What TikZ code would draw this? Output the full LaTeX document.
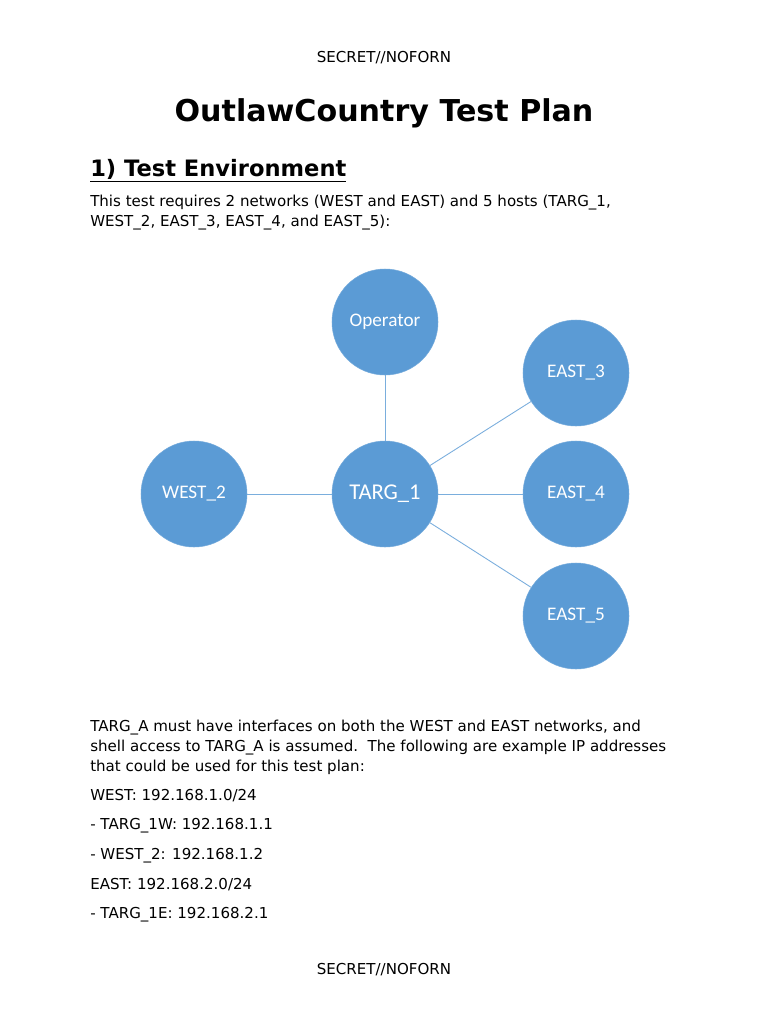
\documentclass[tikz,border=0pt]{standalone}
\usepackage{fontspec}
\setmainfont{DejaVu Sans}
\newfontfamily\calib{Carlito}
\definecolor{hostblue}{HTML}{5B9BD5}
\definecolor{linkblue}{HTML}{7AAEDD}
\tikzset{
  host/.style={circle,fill=hostblue,draw=hostblue!85!white,line width=.4pt,minimum size=84.5pt,inner sep=0pt,text=white,font=\calib\fontsize{15.3}{18}\selectfont},
  link/.style={draw=linkblue,line width=.7pt},
  body/.style={anchor=west,inner sep=0pt,font=\fontsize{12}{14}\selectfont}
}
\begin{document}
\begin{tikzpicture}[x=.797pt,y=-.797pt]
\useasboundingbox(0,0)rectangle(768,1024);
\fill[white](0,0)rectangle(768,1024);
\node[body,anchor=center](hdr)at(384,58){SECRET//NOFORN};
\node[anchor=center,font=\fontsize{24}{28}\selectfont\bfseries](title)at(384,113.5){OutlawCountry Test Plan};
\node[body,font=\fontsize{18}{21}\selectfont\bfseries](sec)at(90,170.5){\underline{1) Test Environment}};
\node[body](p1)at(90,202.5){This test requires 2 networks (WEST and EAST) and 5 hosts (TARG\_1,};
\node[body](p2)at(90,222.5){WEST\_2, EAST\_3, EAST\_4, and EAST\_5):};
% hosts
\node[host](oper)at(385,322){\raisebox{-1.5pt}{Operator}};
\node[host,font=\calib\fontsize{18}{21}\selectfont](targ)at(385,494){TARG\_1};
\node[host](west)at(194,494){WEST\_2};
\node[host](east3)at(576,373){EAST\_3};
\node[host](east4)at(576,494){EAST\_4};
\node[host](east5)at(576,616){EAST\_5};
\draw[link](targ)--(oper);\draw[link](targ)--(west);
\foreach \h in {east3,east4,east5}{\draw[link](targ)--(\h);}
% addresses
\node[body](p3)at(90,727.5){TARG\_A must have interfaces on both the WEST and EAST networks, and};
\node[body](p4)at(90,747.5){shell access to TARG\_A is assumed.\ \ The following are example IP addresses};
\node[body](p5)at(90,767.5){that could be used for this test plan:};
\node[body](a1)at(90,795.5){WEST: 192.168.1.0/24};
\node[body](a2)at(90,825.5){- TARG\_1W: 192.168.1.1};
\node[body](a3)at(90,855.5){- WEST\_2: 192.168.1.2};
\node[body](a4)at(90,884.5){EAST: 192.168.2.0/24};
\node[body](a5)at(90,914.5){- TARG\_1E: 192.168.2.1};
\node[body,anchor=center](ftr)at(384,970){SECRET//NOFORN};
\end{tikzpicture}
\end{document}
